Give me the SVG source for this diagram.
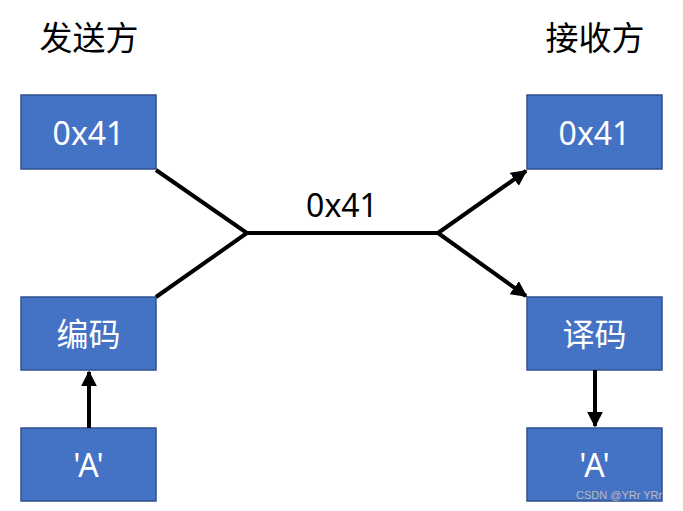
<svg xmlns="http://www.w3.org/2000/svg" width="683" height="511" viewBox="0 0 683 511">
<style>
.b{fill:#4472C4;stroke:#2F528F;stroke-width:1.5}
.t{fill:#fff;font-family:"Noto Sans","Noto Sans CJK SC",sans-serif;font-size:32px;text-anchor:middle;dominant-baseline:central}
.h{fill:#000;font-family:"Noto Sans","Noto Sans CJK SC",sans-serif;font-size:33px;text-anchor:middle;dominant-baseline:central}
.c{stroke:#000;stroke-width:4;fill:none}
</style>
<defs><marker id="a" viewBox="0 0 10 10" refX="9" refY="5" markerWidth="4" markerHeight="4" orient="auto"><path d="M0,0L10,5L0,10z" fill="#000"/></marker></defs>
<rect width="683" height="511" fill="#fff"/>
<text class="h" x="89" y="37">发送方</text>
<text class="h" x="595" y="37">接收方</text>
<g id="s1"><rect class="b" x="21" y="95" width="135" height="74"/><text class="t" x="88.5" y="132">0x41</text></g>
<g id="s2"><rect class="b" x="21" y="297" width="135" height="73"/><text class="t" x="88.5" y="333">编码</text></g>
<g id="s3"><rect class="b" x="21" y="428" width="135" height="73"/><text class="t" x="88.5" y="464">'A'</text></g>
<g id="r1"><rect class="b" x="527" y="95" width="135" height="74"/><text class="t" x="594.5" y="132">0x41</text></g>
<g id="r2"><rect class="b" x="527" y="297" width="135" height="73"/><text class="t" x="594.5" y="333">译码</text></g>
<g id="r3"><rect class="b" x="527" y="428" width="135" height="73"/><text class="t" x="594.5" y="464">'A'</text></g>
<g id="connectors">
<path class="c" d="M156,170L247,233L156,297M247,233H438"/>
<path class="c" d="M438,233L526,171" marker-end="url(#a)"/>
<path class="c" d="M438,233L526,296" marker-end="url(#a)"/>
<path class="c" d="M89,428V372" marker-end="url(#a)"/>
<path class="c" d="M595,370V426" marker-end="url(#a)"/>
<text x="342" y="204" style="font-family:'Noto Sans',sans-serif;font-size:32px;text-anchor:middle;dominant-baseline:central">0x41</text>
</g>
<text x="576" y="499" style="font-family:'Liberation Sans',sans-serif;font-size:11px;fill:#bbb">CSDN @YRr YRr</text>
</svg>
